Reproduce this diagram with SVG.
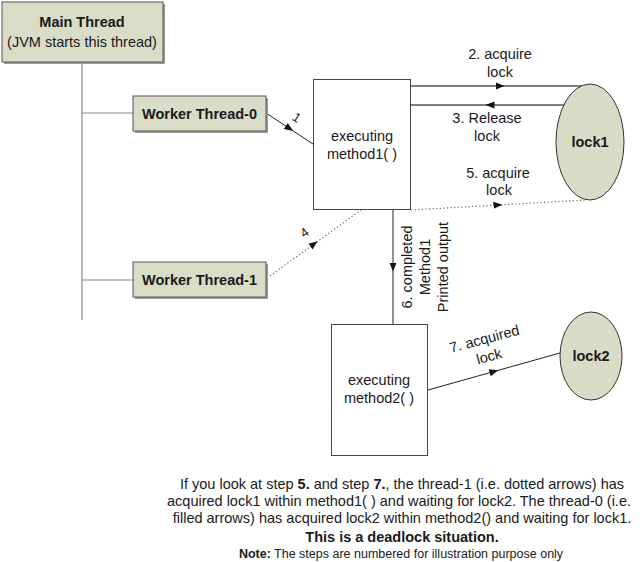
<svg xmlns="http://www.w3.org/2000/svg" width="640" height="562" viewBox="0 0 640 562">
<style>
text{font-family:"Liberation Sans",Arial,sans-serif;font-size:14.5px;fill:#1a1a1a}
.b{font-weight:bold}
.c{text-anchor:middle}
.thread{fill:#d9dcc7;stroke:#555;stroke-width:1}
.shadow{fill:#9a9a9a}
.meth{fill:#fff;stroke:#444;stroke-width:1}
.lock{fill:#d9dbc6;stroke:#333;stroke-width:1}
.tree{stroke:#888;stroke-width:1.2;fill:none}
.solid{stroke:#222;stroke-width:1;fill:none}
.thick{stroke:#555;stroke-width:1.6;fill:none}
.dot{stroke:#666;stroke-width:1.2;stroke-dasharray:1.2 2.4;fill:none}
.note{font-size:12.5px}
</style>
<defs>
<marker id="mid" viewBox="0 0 10 10" refX="5" refY="5" markerWidth="9" markerHeight="9" markerUnits="userSpaceOnUse" orient="auto">
<path d="M0,1 L10,5 L0,9 z" fill="#111"/>
</marker>
</defs>
<rect width="640" height="562" fill="#fff"/>

<g id="connectors">
<polyline class="tree" points="82,62 82,320"/>
<polyline class="tree" points="82,113 133,113"/>
<polyline class="tree" points="82,280 133,280"/>
<polyline class="solid" points="266,113 289.5,128.5 313,144" marker-mid="url(#mid)"/>
<text x="297" y="122" class="c" style="font-size:13px" transform="rotate(33 297 117)">1</text>
<polyline class="thick" points="411,86 500,86 590,86" marker-mid="url(#mid)"/>
<polyline class="thick" points="565,105 490,105 411,105" marker-mid="url(#mid)"/>
<polyline class="dot" points="411,210 498,205 585,200" marker-mid="url(#mid)"/>
<polyline class="dot" points="267,278 314,244 361,210" marker-mid="url(#mid)"/>
<text x="304" y="237" class="c" style="font-size:13px" transform="rotate(-35 304 232)">4</text>
<polyline class="solid" points="393,210 393,267 393,324" marker-mid="url(#mid)"/>
<polyline class="solid" points="428,390 494,371.5 560,353" marker-mid="url(#mid)"/>
<text class="c" x="500" y="59">2. acquire</text>
<text class="c" x="500" y="77">lock</text>
<text class="c" x="487" y="123">3. Release</text>
<text class="c" x="487" y="141">lock</text>
<text class="c" x="498" y="178">5. acquire</text>
<text class="c" x="499" y="195">lock</text>
<g transform="translate(393,267) rotate(-90)">
<text class="c" x="0" y="18.5">6. completed</text>
<text class="c" x="0" y="36.5">Method1</text>
<text class="c" x="0" y="54.5">Printed output</text>
</g>
<g transform="translate(487,348.5) rotate(-15)">
<text class="c" x="0" y="-5">7. acquired</text>
<text class="c" x="0" y="13">lock</text>
</g>
</g>

<g id="main-thread">
<rect class="shadow" x="4" y="4" width="161" height="60"/>
<rect class="thread" x="2" y="2" width="161" height="60"/>
<text class="c b" x="82" y="27">Main Thread</text>
<text class="c" x="82" y="47">(JVM starts this thread)</text>
</g>

<g id="worker-thread-0">
<rect class="shadow" x="135" y="98" width="133" height="35"/>
<rect class="thread" x="133" y="96" width="133" height="35"/>
<text class="c b" x="199.5" y="119">Worker Thread-0</text>
</g>

<g id="worker-thread-1">
<rect class="shadow" x="135" y="264" width="133" height="35"/>
<rect class="thread" x="133" y="262" width="133" height="35"/>
<text class="c b" x="199.5" y="285">Worker Thread-1</text>
</g>

<g id="method1">
<rect class="meth" x="313.5" y="79.5" width="97" height="130"/>
<text class="c" x="362" y="141">executing</text>
<text class="c" x="362" y="159">method1( )</text>
</g>

<g id="method2">
<rect class="meth" x="331.5" y="324.5" width="96" height="131"/>
<text class="c" x="379" y="385">executing</text>
<text class="c" x="379" y="403">method2( )</text>
</g>

<g id="lock1">
<ellipse class="lock" cx="590" cy="142" rx="34" ry="58"/>
<text class="c b" x="590" y="147">lock1</text>
</g>

<g id="lock2">
<ellipse class="lock" cx="591" cy="356" rx="31" ry="44"/>
<text class="c b" x="591" y="361">lock2</text>
</g>

<g id="caption">
<text class="c" x="402" y="489">If you look at step <tspan class="b">5.</tspan> and step <tspan class="b">7.</tspan>, the thread-1 (i.e. dotted arrows) has</text>
<text class="c" x="399" y="506">acquired lock1 within method1( ) and waiting for lock2. The thread-0 (i.e.</text>
<text class="c" x="402" y="523">filled arrows) has acquired lock2 within method2() and waiting for lock1.</text>
<text class="c b" x="402" y="542">This is a deadlock situation.</text>
<text class="c note" x="401" y="558"><tspan class="b">Note:</tspan> The steps are numbered for illustration purpose only</text>
</g>
</svg>
